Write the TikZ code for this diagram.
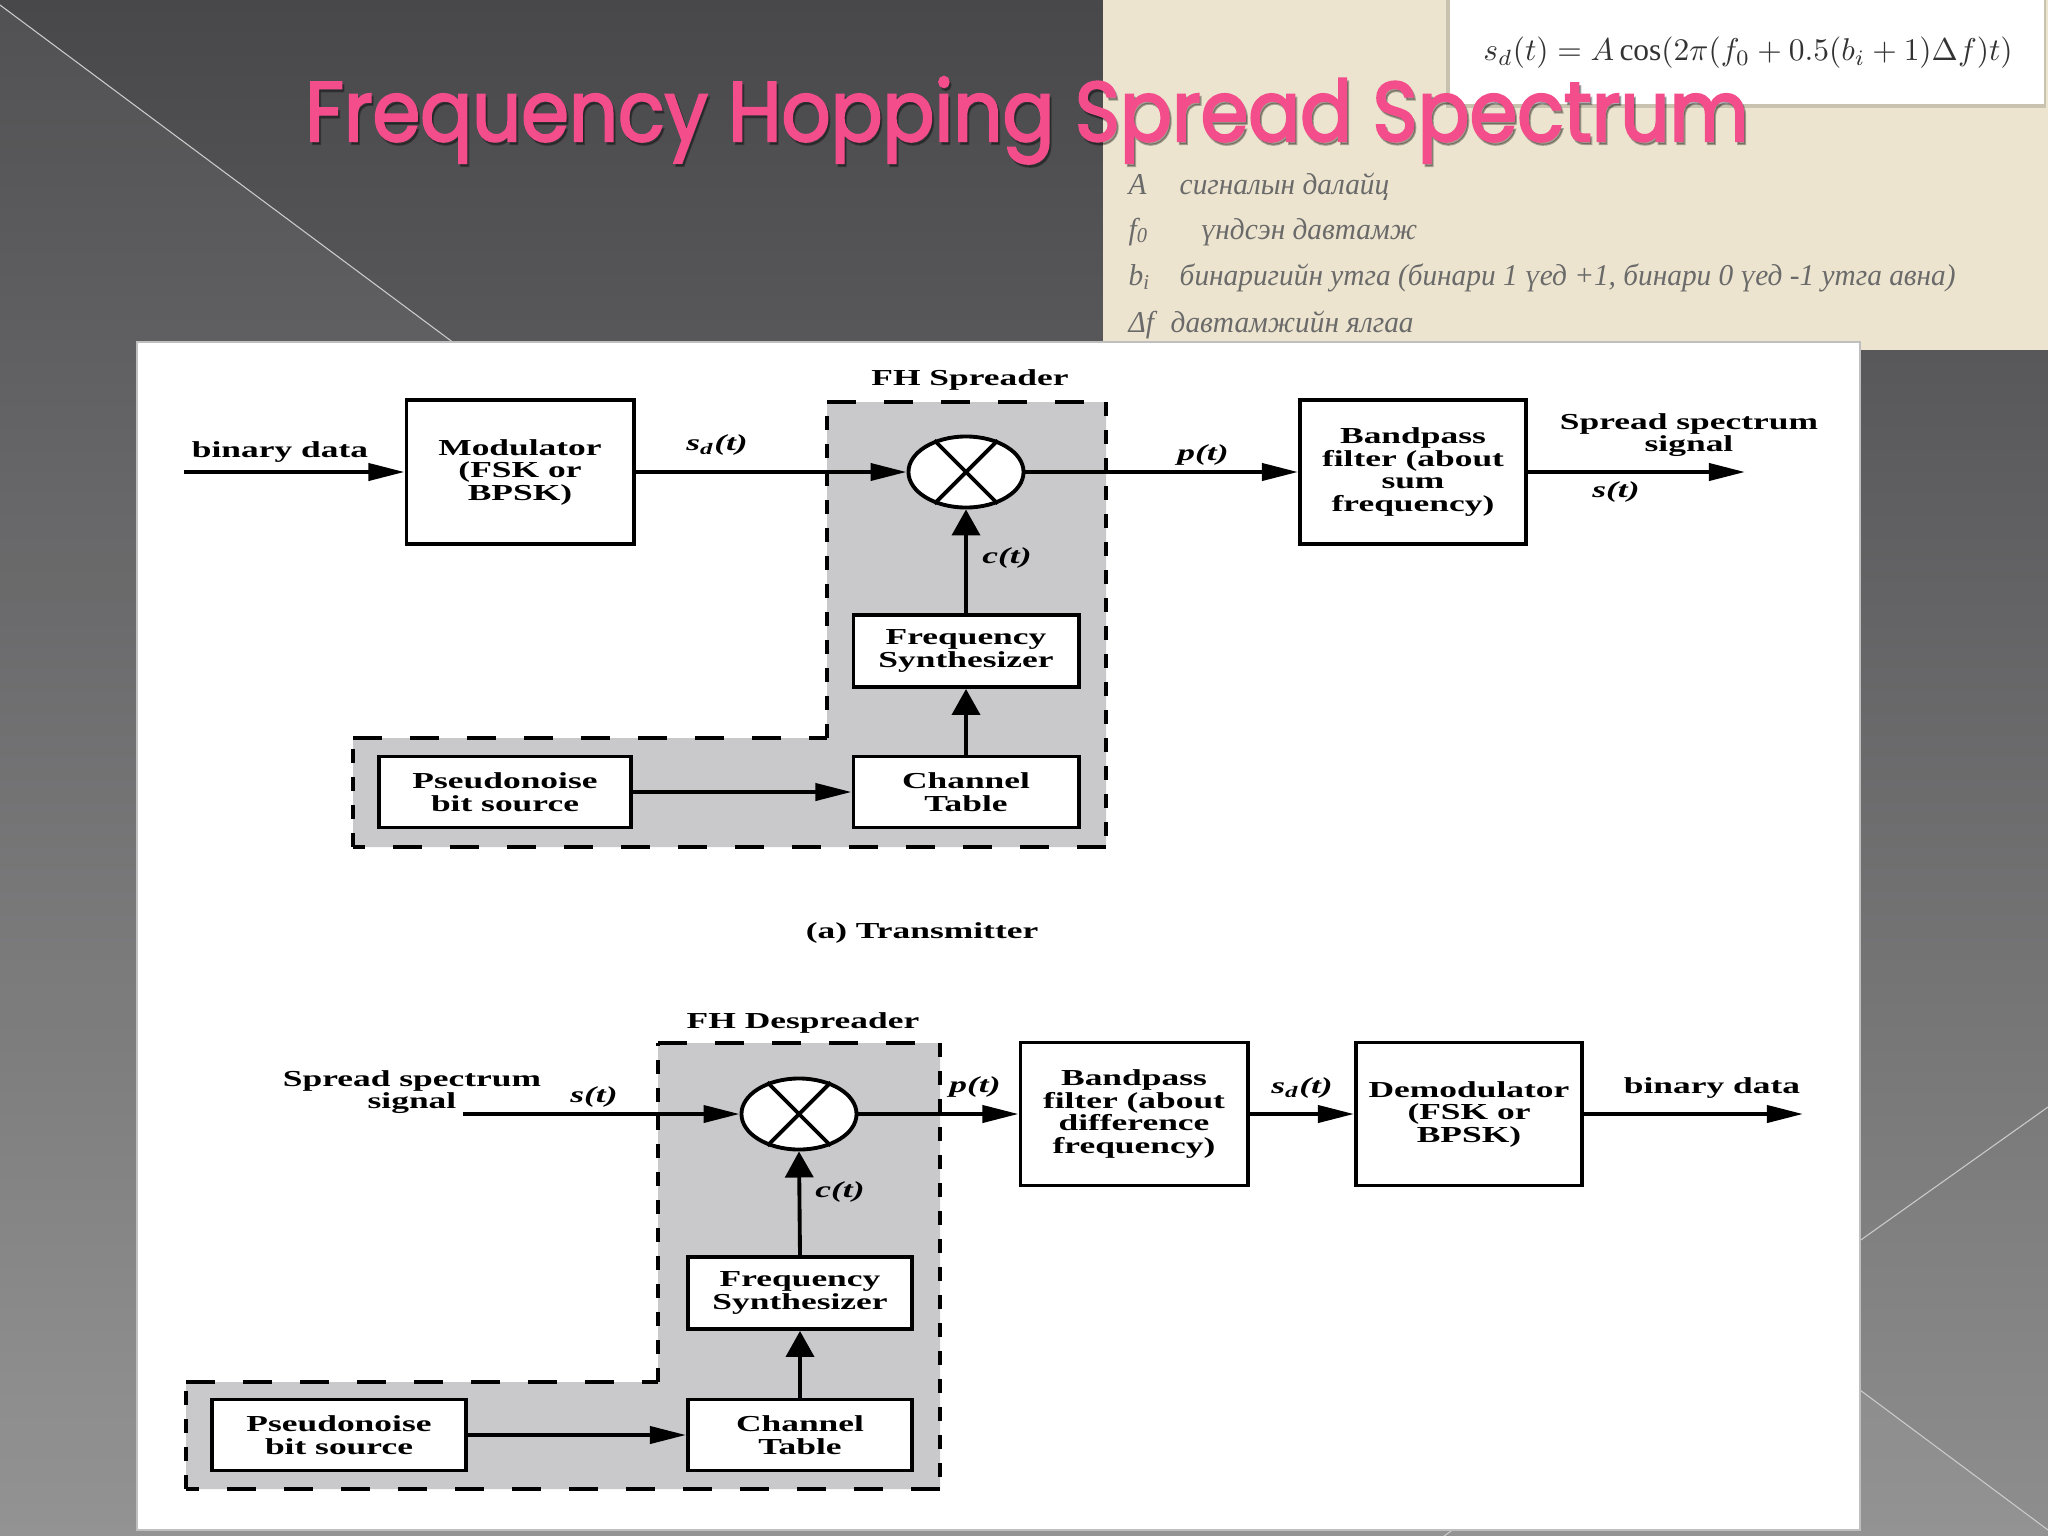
\documentclass[tikz,border=0pt]{standalone}
\usepackage{fontspec}
\usepackage{graphicx}
\usepackage{xcolor}
\usepackage{tikz}
\usetikzlibrary{arrows.meta,shapes.geometric,positioning}
\setmainfont{Liberation Serif}
\newfontfamily\diafont{Liberation Serif}[FakeStretch=1.55]
\newfontfamily\titlefont{Poppins}[FakeStretch=0.91,FakeBold=2.5]
\newfontfamily\notefont{Liberation Serif}[FakeStretch=0.97]
\definecolor{slidetop}{HTML}{48474A}
\definecolor{slidebot}{HTML}{8E8E8E}
\definecolor{beige}{HTML}{ECE4CE}
\definecolor{pinktitle}{HTML}{F44D8C}
\definecolor{notegray}{HTML}{6A6A6A}
\definecolor{spreadgray}{HTML}{C9C9CB}
\tikzset{
  blk/.style={draw,line width=1.1pt,fill=white,align=center,inner sep=0pt,
    font=\diafont\bfseries\fontsize{6.5}{6.4}\selectfont},
  mixer/.style={draw,ellipse,line width=1.1pt,fill=white,minimum width=1.15cm,
    minimum height=0.71cm,inner sep=0pt},
  lbl/.style={font=\diafont\bfseries\fontsize{6.5}{6.4}\selectfont,align=center,inner sep=0pt},
  sig/.style={font=\diafont\bfseries\itshape\fontsize{6.5}{6.4}\selectfont,inner sep=0pt},
  harr/.style={-{Triangle[length=0.36cm,width=0.17cm]},line width=1.1pt},
  varr/.style={-{Triangle[length=0.26cm,width=0.28cm]},line width=1.1pt},
  hdash/.style={line width=1.2pt,dash pattern=on 0.29cm off 0.28cm},
  vdash/.style={line width=1.2pt,dash pattern=on 0.14cm off 0.14cm},
  note/.style={anchor=west,text=notegray,inner sep=0pt,
    font=\notefont\itshape\fontsize{8.6}{8.6}\selectfont},
}
\begin{document}
\begin{tikzpicture}[x=0.01cm,y=-0.01cm]
    \useasboundingbox (0,0) rectangle (2048,1536);
    % slide background
    \shade[top color=slidetop,bottom color=slidebot] (0,0) rectangle (2048,1536);
    \fill[white,opacity=0.05] (0,5) -- (2048,1530) -- (2048,1536) -- (0,1536) -- cycle;
    \draw[white!60!gray,line width=0.3pt] (0,5) -- (2048,1530);
    \draw[white!60!gray,line width=0.3pt] (1444,1536) -- (2048,1107);
    \fill[beige] (1103,0) rectangle (2048,350);
    \fill[black,opacity=0.15] (1446,0) rectangle (2046,108);
    \fill[white] (1450,0) rectangle (2044,104);
    \node[text=black!80] (formula) at (1748,53)
      {\resizebox{5.29cm}{!}{$s_d(t) = A\cos(2\pi(f_0+0.5(b_i+1)\Delta f)t)$}};
    \node[note] (noteA) at (1128,187) {\makebox[0.51cm][l]{A}сигналын далайц};
    \node[note] (noteF) at (1128,232) {\makebox[0.72cm][l]{f\textsubscript{0}}үндсэн давтамж};
    \node[note] (noteB) at (1128,278) {\makebox[0.51cm][l]{b\textsubscript{i}}бинаригийн утга (бинари 1 үед +1, бинари 0 үед -1 утга авна)};
    \node[note] (noteD) at (1128,325) {\makebox[0.42cm][l]{Δf}давтамжийн ялгаа};
    \node[text=black,opacity=0.3,anchor=base,font=\titlefont\fontsize{24}{24}\selectfont]
      (titleshadow) at (1029,144) {Frequency Hopping Spread Spectrum};
    \node[text=pinktitle,anchor=base,font=\titlefont\fontsize{24}{24}\selectfont]
      (title) at (1027,141) {Frequency Hopping Spread Spectrum};
    \fill[white] (137,342) rectangle (1860,1530);
    \draw[gray!50,line width=0.4pt] (137,342) rectangle (1860,1530);

    % (a) transmitter
    \fill[spreadgray] (827,402) -- (1106,402) -- (1106,847) -- (353,847) -- (353,738) -- (827,738) -- cycle;
    \draw[hdash] (827,402) -- (1106,402);
    \draw[vdash] (1106,402) -- (1106,847);
    \draw[hdash] (1106,847) -- (353,847);
    \draw[vdash] (353,847) -- (353,738);
    \draw[hdash] (353,738) -- (827,738);
    \draw[vdash] (827,738) -- (827,402);
    \coordinate (in1) at (184,472);
    \coordinate (out1) at (1745,472);
    \node[blk,minimum width=2.27cm,minimum height=1.44cm] (mod) at (520,472) {Modulator\\(FSK or\\BPSK)};
    \node[mixer] (mix1) at (966,472) {};
    \draw[line width=1.1pt] (mix1.45) -- (mix1.225) (mix1.135) -- (mix1.315);
    \node[blk,minimum width=2.26cm,minimum height=1.44cm] (bpf1) at (1413,472) {Bandpass\\filter (about\\sum\\frequency)};
    \node[blk,minimum width=2.25cm,minimum height=0.72cm] (fs1) at (966,651) {Frequency\\Synthesizer};
    \node[blk,minimum width=2.25cm,minimum height=0.71cm] (ct1) at (966,792) {Channel\\Table};
    \node[blk,minimum width=2.52cm,minimum height=0.71cm] (pn1) at (505,792) {Pseudonoise\\bit source};
    \draw[harr] (in1) -- (mod.west);
    \draw[harr] (mod.east) -- (mix1.west);
    \draw[harr] (mix1.east) -- (bpf1.west);
    \draw[harr] (bpf1.east) -- (out1);
    \draw[harr] (pn1.east) -- (ct1.west);
    \draw[varr] (ct1.north) -- (fs1.south);
    \draw[varr] (fs1.north) -- (mix1.south);
    \node[lbl] (bin1) at (280,452) {binary data};
    \node[sig] (sd1) at (717,445) {s\textsubscript{d}(t)};
    \node[lbl] (fhs) at (970,380) {FH Spreader};
    \node[sig] (c1) at (1007,558) {c(t)};
    \node[sig] (p1) at (1203,455) {p(t)};
    \node[lbl] (ss1) at (1689,435) {Spread spectrum\\signal};
    \node[sig] (s1) at (1616,492) {s(t)};
    \node[lbl] (cap1) at (922,933) {(a) Transmitter};

    % receiver
    \fill[spreadgray] (658,1043) -- (940,1043) -- (940,1489) -- (186,1489) -- (186,1382) -- (658,1382) -- cycle;
    \draw[hdash] (658,1043) -- (940,1043);
    \draw[vdash] (940,1043) -- (940,1489);
    \draw[hdash] (940,1489) -- (186,1489);
    \draw[vdash] (186,1489) -- (186,1382);
    \draw[hdash] (186,1382) -- (658,1382);
    \draw[vdash] (658,1382) -- (658,1043);
    \coordinate (in2) at (463,1114);
    \coordinate (out2) at (1803,1114);
    \node[mixer] (mix2) at (799,1114) {};
    \draw[line width=1.1pt] (mix2.45) -- (mix2.225) (mix2.135) -- (mix2.315);
    \node[blk,minimum width=2.27cm,minimum height=1.43cm] (bpf2) at (1134,1114) {Bandpass\\filter (about\\difference\\frequency)};
    \node[blk,minimum width=2.26cm,minimum height=1.43cm] (dem) at (1469,1114) {Demodulator\\(FSK or\\BPSK)};
    \node[blk,minimum width=2.24cm,minimum height=0.72cm] (fs2) at (800,1293) {Frequency\\Synthesizer};
    \node[blk,minimum width=2.24cm,minimum height=0.71cm] (ct2) at (800,1435) {Channel\\Table};
    \node[blk,minimum width=2.53cm,minimum height=0.71cm] (pn2) at (339,1435) {Pseudonoise\\bit source};
    \draw[harr] (in2) -- (mix2.west);
    \draw[harr] (mix2.east) -- (bpf2.west);
    \draw[harr] (bpf2.east) -- (dem.west);
    \draw[harr] (dem.east) -- (out2);
    \draw[harr] (pn2.east) -- (ct2.west);
    \draw[varr] (ct2.north) -- (fs2.south);
    \draw[varr] (fs2.north) -- (mix2.south);
    \node[lbl] (fhd) at (803,1023) {FH Despreader};
    \node[lbl] (ss2) at (412,1092) {Spread spectrum\\signal};
    \node[sig] (s2) at (594,1097) {s(t)};
    \node[sig] (p2) at (975,1087) {p(t)};
    \node[sig] (c2) at (840,1192) {c(t)};
    \node[sig] (sd2) at (1302,1088) {s\textsubscript{d}(t)};
    \node[lbl] (bin2) at (1712,1088) {binary data};
  \end{tikzpicture}
\end{document}
